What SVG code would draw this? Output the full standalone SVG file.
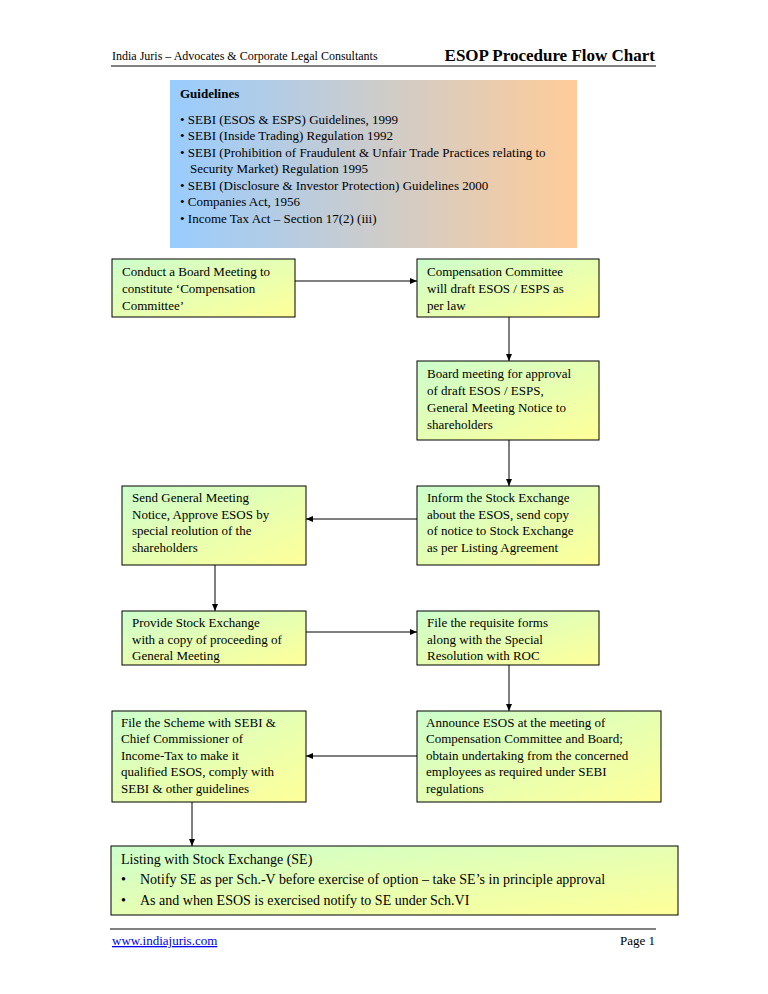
<svg xmlns="http://www.w3.org/2000/svg" width="768" height="994" viewBox="0 0 768 994">
<style>
text{font-family:"Liberation Serif","Times New Roman",serif;fill:#000}
.n{font-size:13px}
.b{fill:url(#g);stroke:#000;stroke-width:1}
.c{stroke:#000;stroke-width:1;fill:none;marker-end:url(#a)}
</style>
<defs>
<linearGradient id="g" x1="0" y1="0" x2="1" y2="1"><stop offset="0" stop-color="#ccffcc"/><stop offset="1" stop-color="#ffff99"/></linearGradient>
<linearGradient id="gh" x1="0" y1="0" x2="1" y2="0"><stop offset="0" stop-color="#99ccff"/><stop offset="1" stop-color="#ffcc99"/></linearGradient>
<marker id="a" markerWidth="8" markerHeight="8" refX="7" refY="4" orient="auto" markerUnits="userSpaceOnUse"><path d="M0,1 L7,4 L0,7 Z" fill="#000"/></marker>
</defs>
<g id="header">
<text x="112" y="60" font-size="12">India Juris – Advocates &amp; Corporate Legal Consultants</text>
<text x="655" y="61" font-size="17" font-weight="bold" text-anchor="end">ESOP Procedure Flow Chart</text>
<line x1="111" y1="66" x2="656" y2="66" stroke="#000"/>
</g>
<g id="guidelines">
<rect x="170" y="80" width="407" height="168" fill="url(#gh)"/>
<text x="180" y="98" font-size="13" font-weight="bold">Guidelines</text>
<g class="n">
<text x="180" y="124">• SEBI (ESOS &amp; ESPS) Guidelines, 1999</text>
<text x="180" y="140">• SEBI (Inside Trading) Regulation 1992</text>
<text x="180" y="157">• SEBI (Prohibition of Fraudulent &amp; Unfair Trade Practices relating to</text>
<text x="190" y="173">Security Market) Regulation 1995</text>
<text x="180" y="190">• SEBI (Disclosure &amp; Investor Protection) Guidelines 2000</text>
<text x="180" y="206">• Companies Act, 1956</text>
<text x="180" y="223">• Income Tax Act – Section 17(2) (iii)</text>
</g>
</g>
<g id="connectors">
<line class="c" x1="295" y1="281" x2="417" y2="281"/>
<line class="c" x1="509" y1="317" x2="509" y2="361"/>
<line class="c" x1="509" y1="440" x2="509" y2="486"/>
<line class="c" x1="417" y1="519" x2="306" y2="519"/>
<line class="c" x1="215" y1="565" x2="215" y2="611"/>
<line class="c" x1="306" y1="632" x2="417" y2="632"/>
<line class="c" x1="509" y1="665" x2="509" y2="711"/>
<line class="c" x1="417" y1="756" x2="306" y2="756"/>
<line class="c" x1="192" y1="802" x2="192" y2="846"/>
</g>
<g id="n1"><rect class="b" x="112" y="259" width="183" height="58"/><text class="n" x="122" y="276">Conduct a Board Meeting to</text><text class="n" x="122" y="293">constitute ‘Compensation</text><text class="n" x="122" y="310">Committee’</text></g>
<g id="n2"><rect class="b" x="417" y="259" width="182" height="58"/><text class="n" x="427" y="276">Compensation Committee</text><text class="n" x="427" y="293">will draft ESOS / ESPS as</text><text class="n" x="427" y="310">per law</text></g>
<g id="n3"><rect class="b" x="417" y="361" width="182" height="79"/><text class="n" x="427" y="378">Board meeting for approval</text><text class="n" x="427" y="395">of draft ESOS / ESPS,</text><text class="n" x="427" y="412">General Meeting Notice to</text><text class="n" x="427" y="429">shareholders</text></g>
<g id="n4"><rect class="b" x="122" y="486" width="184" height="79"/><text class="n" x="132" y="502">Send General Meeting</text><text class="n" x="132" y="519">Notice, Approve ESOS by</text><text class="n" x="132" y="535">special reolution of the</text><text class="n" x="132" y="552">shareholders</text></g>
<g id="n5"><rect class="b" x="417" y="486" width="182" height="79"/><text class="n" x="427" y="502">Inform the Stock Exchange</text><text class="n" x="427" y="519">about the ESOS, send copy</text><text class="n" x="427" y="535">of notice to Stock Exchange</text><text class="n" x="427" y="552">as per Listing Agreement</text></g>
<g id="n6"><rect class="b" x="122" y="611" width="184" height="54"/><text class="n" x="132" y="627">Provide Stock Exchange</text><text class="n" x="132" y="644">with a copy of proceeding of</text><text class="n" x="132" y="660">General Meeting</text></g>
<g id="n7"><rect class="b" x="417" y="611" width="182" height="54"/><text class="n" x="427" y="627">File the requisite forms</text><text class="n" x="427" y="644">along with the Special</text><text class="n" x="427" y="660">Resolution with ROC</text></g>
<g id="n8"><rect class="b" x="112" y="711" width="194" height="91"/><text class="n" x="121" y="727">File the Scheme with SEBI &amp;</text><text class="n" x="121" y="743">Chief Commissioner of</text><text class="n" x="121" y="760">Income-Tax to make it</text><text class="n" x="121" y="776">qualified ESOS, comply with</text><text class="n" x="121" y="793">SEBI &amp; other guidelines</text></g>
<g id="n9"><rect class="b" x="417" y="711" width="244" height="91"/><text class="n" x="426" y="727">Announce ESOS at the meeting of</text><text class="n" x="426" y="743">Compensation Committee and Board;</text><text class="n" x="426" y="760">obtain undertaking from the concerned</text><text class="n" x="426" y="776">employees as required under SEBI</text><text class="n" x="426" y="793">regulations</text></g>
<g id="n10"><rect class="b" x="111" y="846" width="567" height="69"/>
<text x="121" y="864" font-size="14">Listing with Stock Exchange (SE)</text>
<text x="121" y="884" font-size="14">•</text><text x="140" y="884" font-size="14">Notify SE as per Sch.-V before exercise of option – take SE’s in principle approval</text>
<text x="121" y="905" font-size="14">•</text><text x="140" y="905" font-size="14">As and when ESOS is exercised notify to SE under Sch.VI</text></g>
<g id="footer">
<line x1="110" y1="929" x2="656" y2="929" stroke="#000"/>
<text x="112" y="945" font-size="13" fill="#0000ee" style="fill:#0000ee" text-decoration="underline">www.indiajuris.com</text>
<text x="655" y="945" font-size="13" text-anchor="end">Page 1</text>
</g>
</svg>
